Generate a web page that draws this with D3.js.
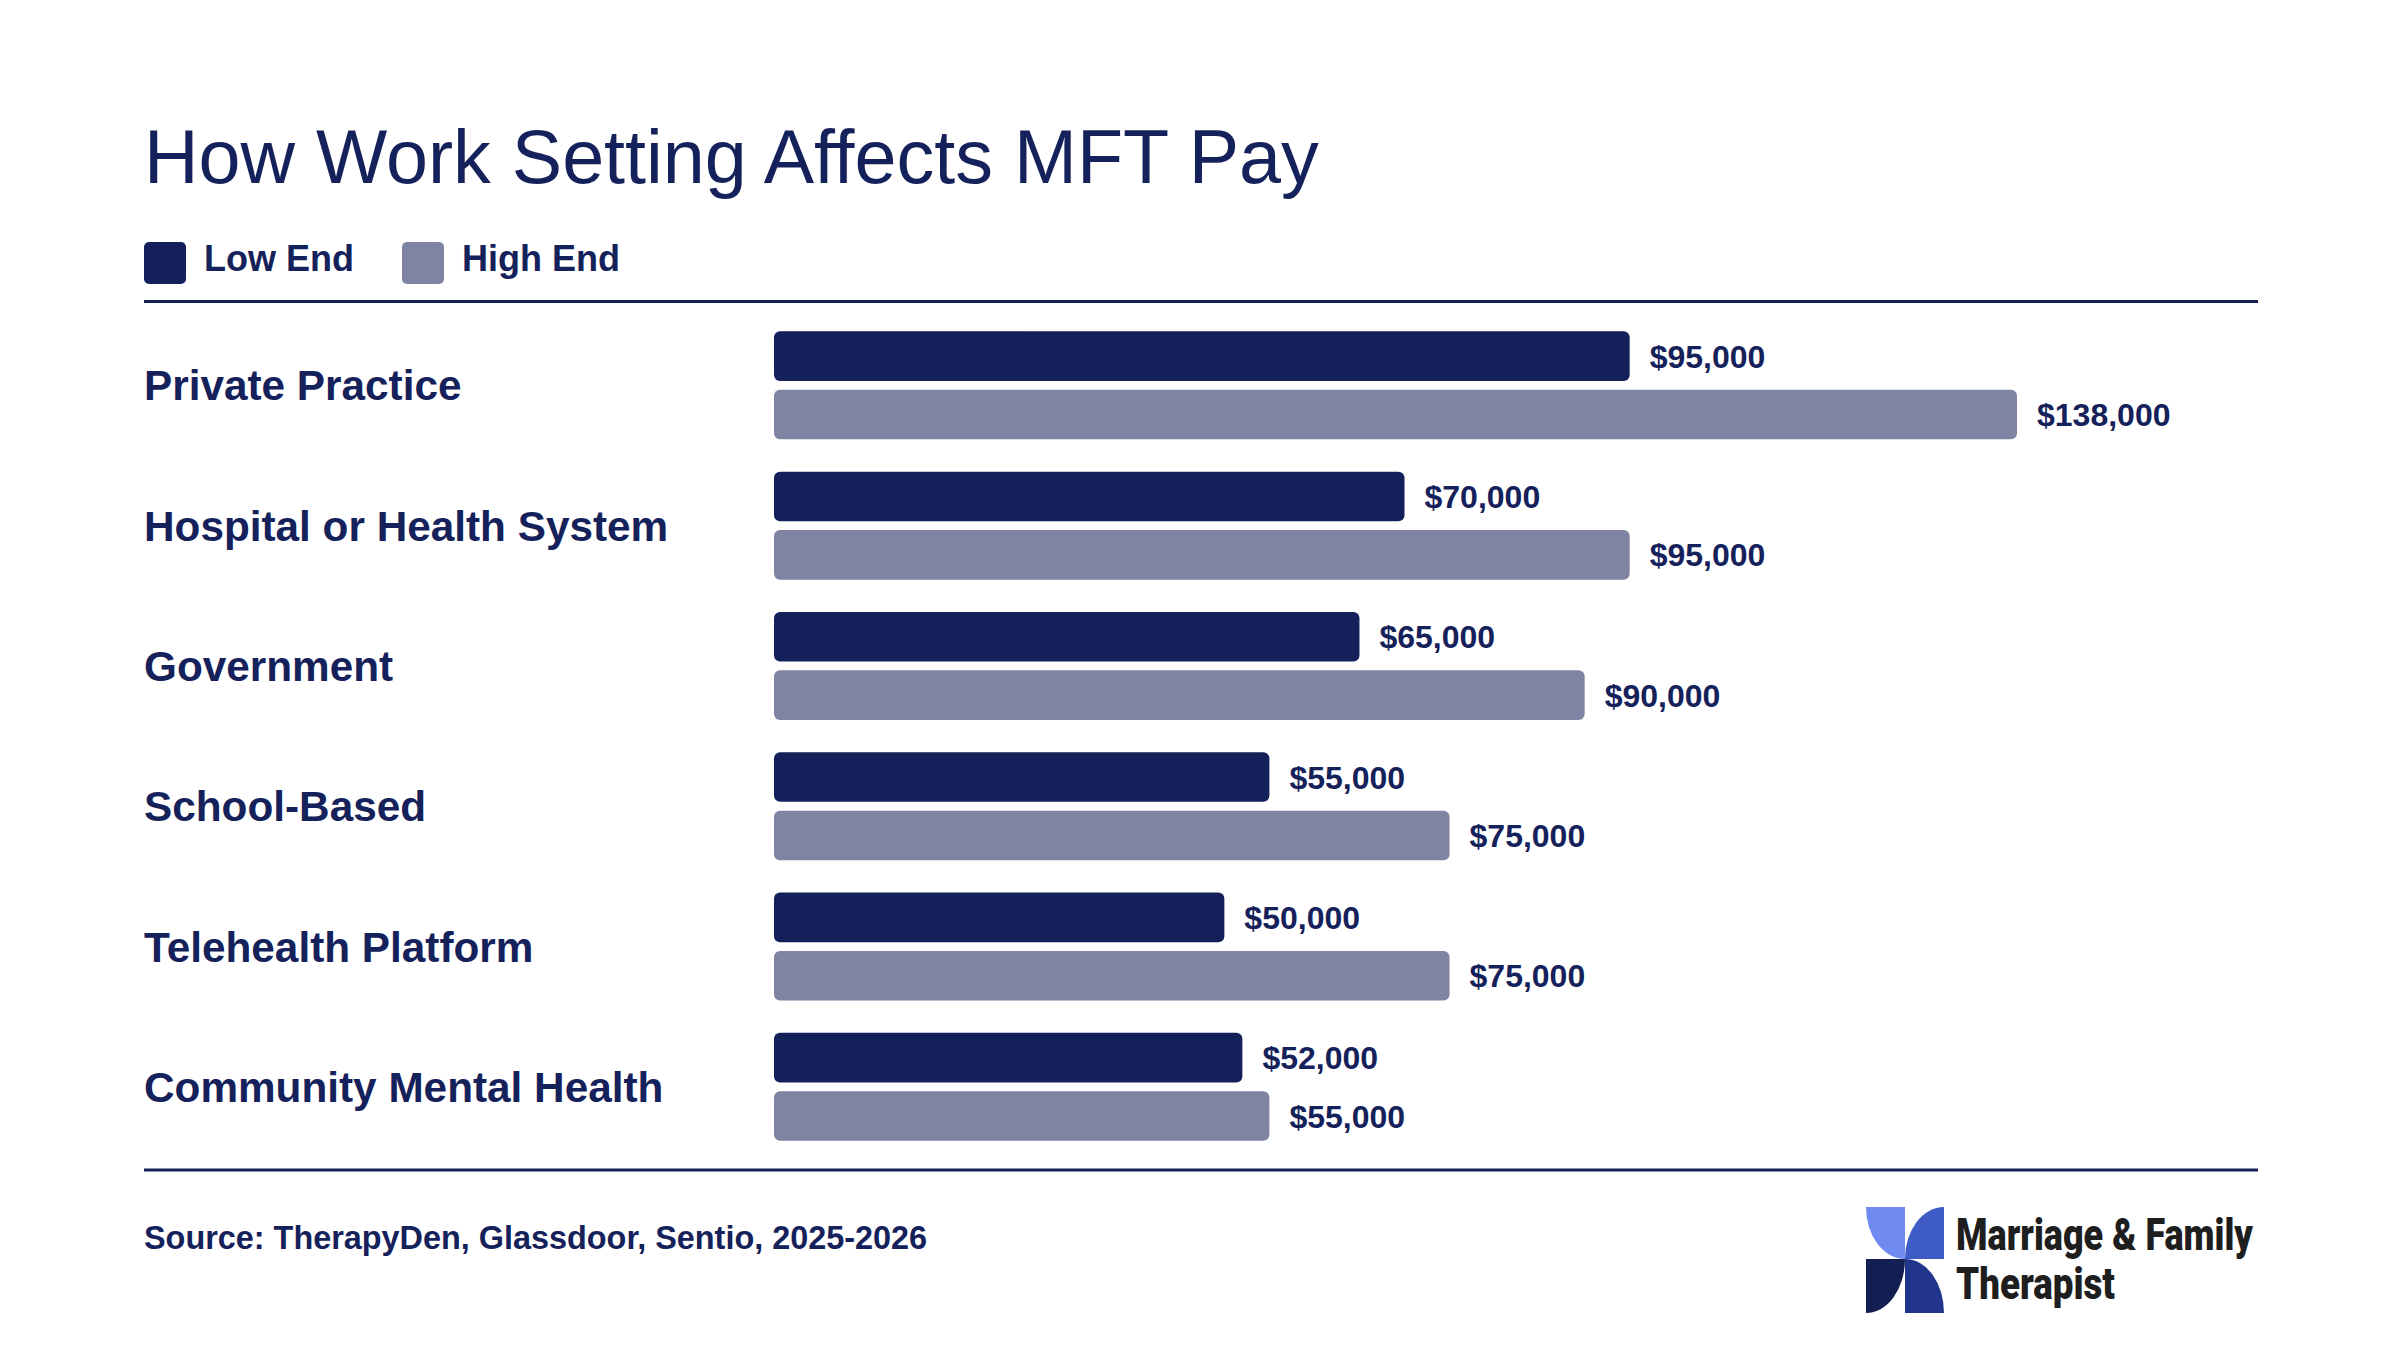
<!DOCTYPE html>
<html>
<head>
<meta charset="utf-8">
<script src="https://cdn.jsdelivr.net/npm/d3@7"></script>
<style>
  html, body { margin: 0; padding: 0; background: #ffffff; }
  svg { display: block; font-family: "Liberation Sans", Arial, sans-serif; }
</style>
</head>
<body>
<div id="chart"></div>
<script>
// data
var categories = ["Private Practice", "Hospital or Health System", "Government",
                  "School-Based", "Telehealth Platform", "Community Mental Health"];
var lowEnd  = [95000, 70000, 65000, 55000, 50000, 52000];
var highEnd = [138000, 95000, 90000, 75000, 75000, 55000];
var seriesNames = ["Low End", "High End"];

var navy = "#14205a", slate = "#7e84a2", ink = "#15215a";
var W = 2400, H = 1350;

var svg = d3.select("#chart").append("svg")
    .attr("width", W)
    .attr("height", H);

svg.append("rect").attr("width", W).attr("height", H).attr("fill", "#fff");

// title
svg.append("text")
    .attr("x", 144).attr("y", 183)
    .attr("fill", ink)
    .style("font-size", "75.5px")
    .text("How Work Setting Affects MFT Pay");

// legend
var colour = d3.scaleOrdinal().domain(seriesNames).range([navy, slate]);
var legendX = [144, 402];
var legend = svg.selectAll("g.legend")
    .data(seriesNames)
    .enter().append("g")
    .attr("class", "legend")
    .attr("transform", function (d, i) { return "translate(" + legendX[i] + ",242)"; });
legend.append("rect")
    .attr("width", 42).attr("height", 42).attr("rx", 5)
    .attr("fill", function (d) { return colour(d); });
legend.append("text")
    .attr("x", 60).attr("y", 29)
    .attr("fill", ink)
    .style("font-size", "36px").style("font-weight", "bold")
    .text(function (d) { return d; });

// rules
svg.append("line").attr("x1", 144).attr("x2", 2258).attr("y1", 301.5).attr("y2", 301.5)
    .attr("stroke", navy).attr("stroke-width", 3);
svg.append("line").attr("x1", 144).attr("x2", 2258).attr("y1", 1170).attr("y2", 1170)
    .attr("stroke", navy).attr("stroke-width", 3);

// scales
var x = d3.scaleLinear().domain([0, 138000]).range([774, 2017]);
var y = d3.scaleBand().domain(categories).range([315.2, 1157.0]).padding(0);
var inner = d3.scaleBand().domain(seriesNames).range([-54, 54]).paddingInner(0.15);

var rows = categories.map(function (c, i) {
    return { name: c, values: [
        { key: "Low End", value: lowEnd[i] },
        { key: "High End", value: highEnd[i] }
    ]};
});

var fmt = d3.format("$,");

var group = svg.selectAll("g.row")
    .data(rows)
    .enter().append("g")
    .attr("class", "row")
    .attr("transform", function (d) { return "translate(0," + (y(d.name) + y.bandwidth() / 2) + ")"; });

group.append("text")
    .attr("x", 144).attr("y", 15)
    .attr("fill", ink)
    .style("font-size", "42.3px").style("font-weight", "bold")
    .text(function (d) { return d.name; });

var bars = group.selectAll("g.bar")
    .data(function (d) { return d.values; })
    .enter().append("g")
    .attr("class", "bar");

bars.append("rect")
    .attr("x", x(0))
    .attr("y", function (d) { return inner(d.key); })
    .attr("width", function (d) { return x(d.value) - x(0); })
    .attr("height", inner.bandwidth())
    .attr("rx", 6)
    .attr("fill", function (d) { return colour(d.key); });

bars.append("text")
    .attr("x", function (d) { return x(d.value) + 20; })
    .attr("y", function (d) { return inner(d.key) + inner.bandwidth() / 2 + 11.5; })
    .attr("fill", ink)
    .style("font-size", "32px").style("font-weight", "bold")
    .text(function (d) { return fmt(d.value); });

// source
svg.append("text")
    .attr("x", 144).attr("y", 1249)
    .attr("fill", ink)
    .style("font-size", "32.4px").style("font-weight", "bold")
    .text("Source: TherapyDen, Glassdoor, Sentio, 2025-2026");

// logo
var logo = svg.append("g").attr("class", "logo");
var x0 = 1866, xm = 1905, x1 = 1944, y0 = 1207, ym = 1259, y1 = 1313;
function quarter(cx, cy, ax, ay, bx, by, rx, ry, sweep) {
    return "M" + cx + "," + cy + "L" + ax + "," + ay +
        "A" + rx + "," + ry + " 0 0 " + sweep + " " + bx + "," + by + "Z";
}
logo.append("path").attr("fill", "#6f8bf2")
    .attr("d", quarter(xm, y0, x0, y0, xm, ym, xm - x0, ym - y0, 0));
logo.append("path").attr("fill", "#3f5cc6")
    .attr("d", quarter(x1, ym, x1, y0, xm, ym, x1 - xm, ym - y0, 0));
logo.append("path").attr("fill", "#131f52")
    .attr("d", quarter(x0, ym, xm, ym, x0, y1, xm - x0, y1 - ym, 1));
logo.append("path").attr("fill", "#22358c")
    .attr("d", quarter(xm, y1, xm, ym, x1, y1, x1 - xm, y1 - ym, 1));
logo.append("text")
    .attr("x", 1956).attr("y", 1250)
    .attr("fill", "#1e1e1e")
    .attr("textLength", 297).attr("lengthAdjust", "spacingAndGlyphs")
    .style("font-family", "Roboto, sans-serif")
    .style("font-size", "44px").style("font-weight", "900")
    .text("Marriage & Family");
logo.append("text")
    .attr("x", 1956).attr("y", 1299)
    .attr("fill", "#1e1e1e")
    .attr("textLength", 159).attr("lengthAdjust", "spacingAndGlyphs")
    .style("font-family", "Roboto, sans-serif")
    .style("font-size", "44px").style("font-weight", "900")
    .text("Therapist");
</script>
</body>
</html>
